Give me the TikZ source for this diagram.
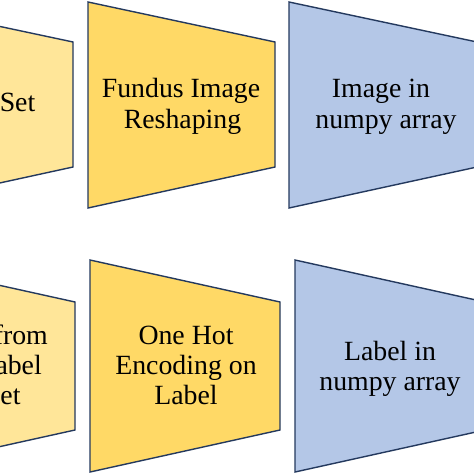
\documentclass[tikz,border=0pt]{standalone}
\usepackage{fontspec}
\setmainfont{Liberation Serif}
\definecolor{lightgold}{HTML}{FFE699}
\definecolor{gold}{HTML}{FFD966}
\definecolor{lightblue}{HTML}{B4C7E7}
\definecolor{edge}{HTML}{24395E}
\begin{document}
\begin{tikzpicture}[x=1pt,y=-1pt,
  stage/.style={draw=edge,line width=1.4pt,line join=miter},
  txt/.style={inner sep=0pt,anchor=base,font=\fontsize{27.8}{30.5}\selectfont,text=black},
  txtr/.style={txt,anchor=base east}]
\useasboundingbox (0,0) rectangle (474,474);
\clip (0,0) rectangle (474,474);
\fill[white] (0,0) rectangle (474,474);
% top row
\draw[stage,fill=lightgold] (-115,2) -- (73,42) -- (73,167) -- (-115,208) -- cycle;
\draw[stage,fill=gold] (88,2) -- (275,42) -- (275,167) -- (88,208) -- cycle;
\draw[stage,fill=lightblue] (289,2) -- (477,42) -- (477,167) -- (289,208) -- cycle;
% bottom row
\draw[stage,fill=lightgold] (-115,260) -- (75,302) -- (75,430) -- (-115,472) -- cycle;
\draw[stage,fill=gold] (90,260) -- (280,302) -- (280,430) -- (90,472) -- cycle;
\draw[stage,fill=lightblue] (295,260) -- (485,302) -- (485,430) -- (295,472) -- cycle;
% top texts
\node[txtr] (t1) at (35.5,111.7) {Set};
\node[txt] (t2a) at (181,97) {Fundus Image};
\node[txt] (t2b) at (182.5,128) {Reshaping};
\node[txt] (t3a) at (381,97) {Image in};
\node[txt] (t3b) at (386,128) {numpy array};
% bottom texts
\node[txtr] (b1a) at (48,344.5) {from};
\node[txtr] (b1b) at (42,374) {Label};
\node[txtr] (b1c) at (20.7,404) {Set};
\node[txt] (b2a) at (186,344) {One Hot};
\node[txt] (b2b) at (186,374) {Encoding on};
\node[txt] (b2c) at (186,404) {Label};
\node[txt] (b3a) at (390,360) {Label in};
\node[txt] (b3b) at (390,390) {numpy array};
\end{tikzpicture}
\end{document}
